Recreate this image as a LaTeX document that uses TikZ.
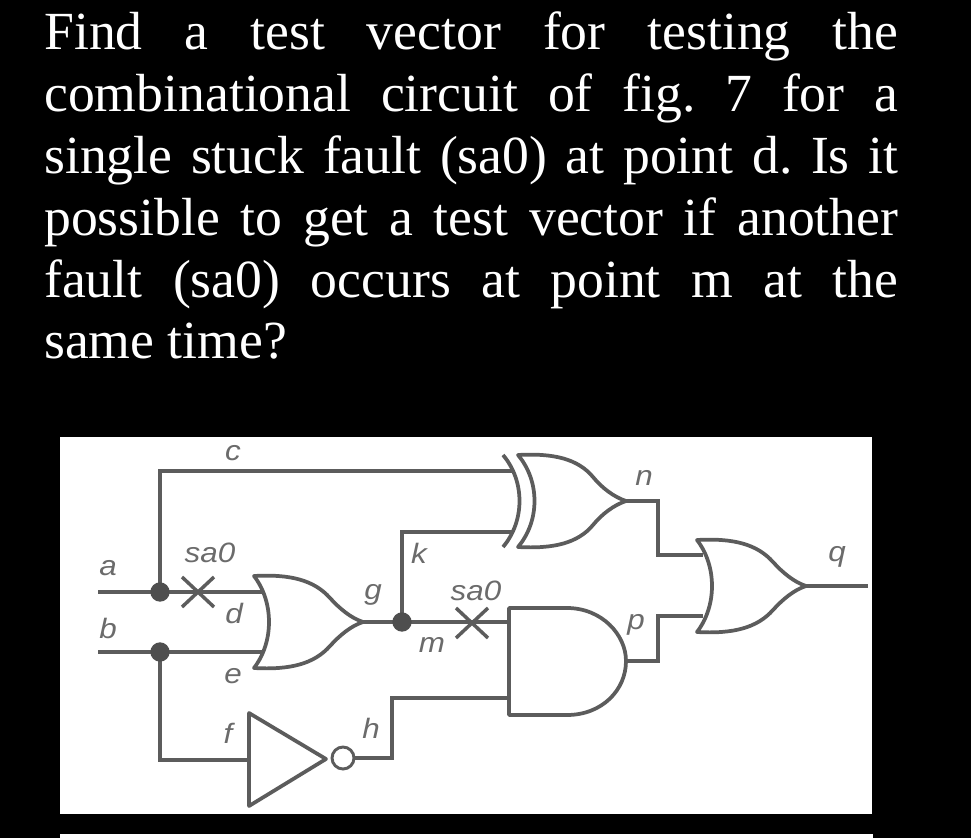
\documentclass[tikz,border=0pt]{standalone}
\usetikzlibrary{calc}
\usepackage{fontspec}
\setmainfont{Liberation Serif}
\newfontfamily\lblfont{Liberation Sans}
\definecolor{ink}{gray}{0.36}
\definecolor{lbl}{gray}{0.42}
\tikzset{
  para/.style={anchor=base west,inner sep=0pt,text=white,font=\fontsize{40.25pt}{46pt}\selectfont},
  wire/.style={draw=ink,line width=3pt,line join=miter},
  gate/.style={draw=ink,line width=2.8pt,fill=white,line join=round},
  dotj/.style={circle,fill=ink!85!black,inner sep=0pt,minimum size=14.5pt},
  bubble/.style={circle,draw=ink,line width=2.2pt,fill=white,inner sep=0pt,minimum size=16.5pt},
  faultx/.style={draw=ink,line width=2.6pt},
  lab/.style={inner sep=0pt,text=lbl,xscale=1.12,font=\lblfont\itshape\fontsize{21pt}{24pt}\selectfont}
}
\newcommand{\orbody}[2]{%
  \begin{scope}[shift={(#1,#2)}]
  \path[gate] (0,-46) .. controls (36,-48) and (60,-42) .. (76,-24) .. controls (86,-13) and (97,-4) .. (109,0)
     .. controls (97,4) and (86,13) .. (76,24) .. controls (60,42) and (36,48) .. (0,46)
     .. controls (20,20) and (20,-20) .. (0,-46) -- cycle;
  \end{scope}}
\begin{document}
\frenchspacing
\begin{tikzpicture}[x=0.75pt,y=-0.75pt]
\useasboundingbox (0,0) rectangle (971,838);
\fill[black] (0,0) rectangle (971,838);
\fill[white] (60,437) rectangle (872,814);
\fill[white] (60,834) rectangle (873,838);
\node[para] (l1) at (44,50) {\makebox[640.5pt][s]{Find a test vector for testing the}};
\node[para] (l2) at (44,112) {\makebox[640.5pt][s]{combinational circuit of fig. 7 for a}};
\node[para] (l3) at (44,174) {\makebox[640.5pt][s]{single stuck fault (sa0) at point d. Is it}};
\node[para] (l4) at (44,235) {\makebox[640.5pt][s]{possible to get a test vector if another}};
\node[para] (l5) at (44,297) {\makebox[640.5pt][s]{fault (sa0) occurs at point m at the}};
\node[para] (l6) at (44,358) {same time?};

% named points
\coordinate (ain) at (98,592);
\coordinate (bin) at (98,652);
\coordinate (ja) at (160,592);
\coordinate (jb) at (160,652);
\coordinate (o1a) at (262,592);
\coordinate (o1b) at (262,652);
\coordinate (o1y) at (363,622);
\coordinate (jg) at (402,622);
\coordinate (xa) at (513,471);
\coordinate (xb) at (513,532);
\coordinate (xy) at (626,501);
\coordinate (ca) at (509,622);
\coordinate (cb) at (509,698);
\coordinate (cy) at (626,661);
\coordinate (o2a) at (703,555);
\coordinate (o2b) at (703,616);
\coordinate (o2y) at (805,586);
\coordinate (qout) at (868,586);
\coordinate (invin) at (249,760);
\coordinate (fx) at (198,592);
\coordinate (mx) at (472,623);

% wires
\draw[wire] (ain) -- (o1a);
\draw[wire] (bin) -- (o1b);
\draw[wire] (ja) |- (xa);
\draw[wire] (jb) |- (invin);
\draw[wire] (o1y) -- (ca);
\draw[wire] (jg) |- (xb);
\draw[wire] (xy) -- ++(32,0) |- (o2a);
\draw[wire] (cy) -- ++(32,0) |- (o2b);
\draw[wire] (o2y) -- (qout);

% gates
\orbody{254}{622}
\orbody{697}{586}
\begin{scope}[shift={(518,501)}]
  \path[gate] (0,-46) .. controls (36,-48) and (60,-42) .. (75,-24) .. controls (84,-13) and (96,-4) .. (108,0)
     .. controls (96,4) and (84,13) .. (75,24) .. controls (60,42) and (36,48) .. (0,46)
     .. controls (22,20) and (22,-20) .. (0,-46) -- cycle;
  \draw[draw=ink,line width=2.8pt] (-15,-46) .. controls (7,-20) and (7,20) .. (-15,46);
\end{scope}
\path[gate] (509,608) -- (567,608) .. controls (602,608) and (626,635) .. (626,661)
   .. controls (626,690) and (602,715) .. (567,715) -- (509,715) -- cycle;
\path[gate] (249,713) -- (326,759) -- (249,806) -- cycle;
\node[bubble] (inv) at (343,758) {};
\draw[wire] (inv.east) -| (392,698) -- (cb);

% junctions
\node[dotj] (da) at (ja) {};
\node[dotj] (db) at (jb) {};
\node[dotj] (dg) at (jg) {};

% fault marks
\draw[faultx] ($(fx)+(-16,-15)$) -- ($(fx)+(16,15)$) ($(fx)+(-16,15)$) -- ($(fx)+(16,-15)$);
\draw[faultx] ($(mx)+(-16,-15)$) -- ($(mx)+(16,15)$) ($(mx)+(-16,15)$) -- ($(mx)+(16,-15)$);

% labels
\node[lab] (ta) at (108,568) {a};
\node[lab] (tb) at (108,628) {b};
\node[lab] (tc) at (233,453) {c};
\node[lab] (ts1) at (210,553) {sa0};
\node[lab] (td) at (234,613) {d};
\node[lab] (te) at (233,676) {e};
\node[lab] (tf) at (228,733) {f};
\node[lab] (tg) at (373,595) {g};
\node[lab] (th) at (371,728) {h};
\node[lab] (tk) at (419,553) {k};
\node[lab] (tm) at (432,645) {m};
\node[lab] (ts2) at (476,591) {sa0};
\node[lab] (tn) at (644,478) {n};
\node[lab] (tp) at (636,625) {p};
\node[lab] (tq) at (837,557) {q};
\end{tikzpicture}
\end{document}
